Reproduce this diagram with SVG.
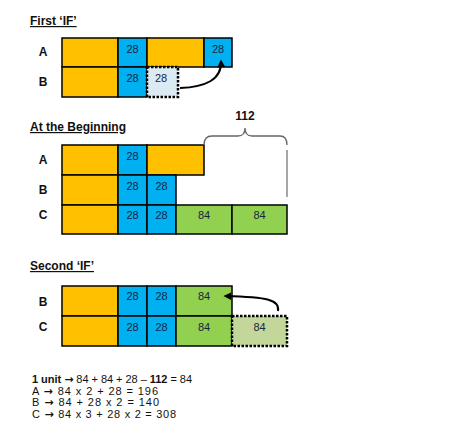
<svg xmlns="http://www.w3.org/2000/svg" width="474" height="442" viewBox="0 0 474 442">
<defs>
<style>
.o{fill:#FFC000;stroke:#000;stroke-width:1.5}
.b{fill:#00B0F0;stroke:#000;stroke-width:1.5}
.g{fill:#92D050;stroke:#000;stroke-width:1.5}
.lb{fill:#DCEBF3;stroke:#000;stroke-width:2.5;stroke-dasharray:2.5 1.5}
.lg{fill:#C4D79B;stroke:#000;stroke-width:2.5;stroke-dasharray:2.5 1.5}
text{font-family:"Liberation Sans",Arial,sans-serif}
.n{font-size:11px;fill:#1a2540;text-anchor:middle}
.lbl{font-size:12px;font-weight:bold;text-anchor:middle;fill:#111}
.ttl{font-size:12px;font-weight:bold;text-decoration:underline;fill:#111}
.eq{font-size:11px;fill:#111}
.ar{font-family:"DejaVu Sans",sans-serif;font-weight:bold}
.con{fill:none;stroke:#000;stroke-width:2}
</style>
<marker id="ah" viewBox="0 0 10 10" refX="8" refY="5" markerWidth="4" markerHeight="4" orient="auto">
<path d="M0,0 L10,5 L0,10 z" fill="#000"/>
</marker>
</defs>
<rect width="474" height="442" fill="#fff"/>

<text class="ttl" x="30" y="25">First ‘IF’</text>
<g id="first-A">
<text class="lbl" x="43" y="56">A</text>
<rect class="o" x="62" y="38" width="56" height="29"/>
<rect class="b" x="118" y="38" width="29" height="29"/><text class="n" x="132.5" y="53">28</text>
<rect class="o" x="147" y="38" width="57" height="29"/>
<rect class="b" x="204" y="38" width="28" height="29"/><text class="n" x="218" y="53">28</text>
</g>
<g id="first-B">
<text class="lbl" x="43" y="86">B</text>
<rect class="o" x="62" y="67" width="56" height="30"/>
<rect class="b" x="118" y="67" width="29" height="30"/><text class="n" x="132.5" y="82">28</text>
<rect class="lb" x="147" y="67" width="31" height="30"/><text class="n" x="161" y="82">28</text>
</g>

<text class="ttl" x="30" y="131">At the Beginning</text>
<g id="begin-A">
<text class="lbl" x="43" y="164">A</text>
<rect class="o" x="62" y="145" width="56" height="30"/>
<rect class="b" x="118" y="145" width="29" height="30"/><text class="n" x="132.5" y="160">28</text>
<rect class="o" x="147" y="145" width="57" height="30"/>
</g>
<g id="begin-B">
<text class="lbl" x="43" y="194">B</text>
<rect class="o" x="62" y="175" width="56" height="30"/>
<rect class="b" x="118" y="175" width="29" height="30"/><text class="n" x="132.5" y="190">28</text>
<rect class="b" x="147" y="175" width="29" height="30"/><text class="n" x="161.5" y="190">28</text>
</g>
<g id="begin-C">
<text class="lbl" x="43" y="219">C</text>
<rect class="o" x="62" y="205" width="56" height="29"/>
<rect class="b" x="118" y="205" width="29" height="29"/><text class="n" x="132.5" y="219">28</text>
<rect class="b" x="147" y="205" width="29" height="29"/><text class="n" x="161.5" y="219">28</text>
<rect class="g" x="176" y="205" width="56" height="29"/><text class="n" x="204" y="219">84</text>
<rect class="g" x="232" y="205" width="55" height="29"/><text class="n" x="259.5" y="219">84</text>
</g>
<g id="brace">
<path d="M204,145 Q204,136 212,136 L238,136 Q245,136 245,128 Q245,136 252,136 L280,136 Q287,136 287,145" fill="none" stroke="#666" stroke-width="1.3"/>
<line x1="287" y1="150" x2="287" y2="197" stroke="#888" stroke-width="1.5"/>
<text class="lbl" x="245" y="120">112</text>
</g>

<text class="ttl" x="30" y="270">Second ‘IF’</text>
<g id="second-B">
<text class="lbl" x="43" y="306">B</text>
<rect class="o" x="62" y="286" width="56" height="30"/>
<rect class="b" x="118" y="286" width="29" height="30"/><text class="n" x="132.5" y="300">28</text>
<rect class="b" x="147" y="286" width="29" height="30"/><text class="n" x="161.5" y="300">28</text>
<rect class="g" x="176" y="286" width="56" height="30"/><text class="n" x="204" y="300">84</text>
</g>
<g id="second-C">
<text class="lbl" x="43" y="331">C</text>
<rect class="o" x="62" y="316" width="56" height="30"/>
<rect class="b" x="118" y="316" width="29" height="30"/><text class="n" x="132.5" y="331">28</text>
<rect class="b" x="147" y="316" width="29" height="30"/><text class="n" x="161.5" y="331">28</text>
<rect class="g" x="176" y="316" width="56" height="30"/><text class="n" x="204" y="331">84</text>
<rect class="lg" x="232" y="316" width="55" height="30"/><text class="n" x="259.5" y="331">84</text>
</g>

<g id="connectors">
<path class="con" d="M180,88 C205,87 222,80 221,61" marker-end="url(#ah)"/>
<path class="con" d="M278,311 C280,300 268,297 225,296" marker-end="url(#ah)"/>
</g>

<g id="equations">
<text class="eq" x="32" y="383" textLength="160" lengthAdjust="spacing"><tspan font-weight="bold">1 unit</tspan> <tspan class="ar">→</tspan> 84 + 84 + 28 – <tspan font-weight="bold">112</tspan> = 84</text>
<text class="eq" x="32" y="394.5" textLength="126" lengthAdjust="spacing">A <tspan class="ar">→</tspan> 84 x 2 + 28 = 196</text>
<text class="eq" x="32" y="406" textLength="127" lengthAdjust="spacing">B <tspan class="ar">→</tspan> 84 + 28 x 2 = 140</text>
<text class="eq" x="32" y="417.5" textLength="144" lengthAdjust="spacing">C <tspan class="ar">→</tspan> 84 x 3 + 28 x 2 = 308</text>
</g>
</svg>
